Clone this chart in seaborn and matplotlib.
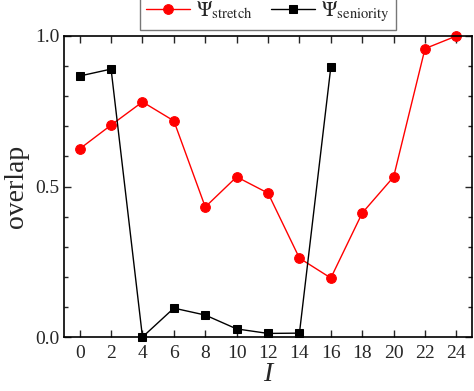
import matplotlib
matplotlib.use("Agg")
import matplotlib.pyplot as plt
import seaborn as sns
import pandas as pd
from matplotlib.ticker import MultipleLocator

sns.set_style("ticks")
plt.rcParams['font.family'] = ['Liberation Serif', 'DejaVu Serif']
plt.rcParams['mathtext.fontset'] = 'stix'

I_stretch = [0, 2, 4, 6, 8, 10, 12, 14, 16, 18, 20, 22, 24]
stretch = [0.625, 0.704, 0.781, 0.718, 0.432, 0.532, 0.478, 0.262, 0.196, 0.412, 0.532, 0.958, 1.0]
I_sen = [0, 2, 4, 6, 8, 10, 12, 14, 16]
seniority = [0.867, 0.890, 0.0, 0.096, 0.073, 0.027, 0.012, 0.013, 0.897]
xticks = list(range(0, 25, 2))
yticks = [0.0, 0.5, 1.0]

df1 = pd.DataFrame({"I": I_stretch, "overlap": stretch})
df2 = pd.DataFrame({"I": I_sen, "overlap": seniority})

fig = plt.figure(figsize=(4.74, 3.91), dpi=100)
ax = fig.add_axes([0.135, 0.138, 0.861, 0.770])

sns.lineplot(data=df1, x="I", y="overlap", ax=ax, color="#ff0000", marker="o",
             markersize=7, markeredgecolor="#ff0000", linewidth=1.0,
             label=r"$\Psi_{\mathrm{stretch}}$", clip_on=False)
sns.lineplot(data=df2, x="I", y="overlap", ax=ax, color="black", marker="s",
             markersize=6, markeredgecolor="black", linewidth=1.0,
             label=r"$\Psi_{\mathrm{seniority}}$", clip_on=False)

ax.set_xlim(-1, 25)
ax.set_ylim(0, 1)
ax.set_xticks(xticks)
ax.set_xticklabels([str(t) for t in xticks])
ax.set_yticks(yticks)
ax.set_yticklabels([f"{t:.1f}" for t in yticks])
ax.yaxis.set_minor_locator(MultipleLocator(0.1))
ax.tick_params(axis='both', which='both', direction='in', top=True, right=True,
               labelsize=14, width=1.0)
ax.tick_params(axis='both', which='major', length=5)
ax.tick_params(axis='both', which='minor', length=3)
ax.tick_params(axis='x', which='major', pad=6)
for s in ax.spines.values():
    s.set_linewidth(1.2)
    s.set_color("black")

ax.set_xlabel("I", fontsize=20, style='italic', labelpad=0)
ax.set_ylabel("overlap", fontsize=20, labelpad=4)

ax.legend_.remove()
h, l = ax.get_legend_handles_labels()
leg = fig.legend(h, l, ncol=2, loc='lower left', bbox_to_anchor=(0.295, 0.923),
                 fontsize=15, frameon=True, fancybox=False, edgecolor="#555555",
                 handlelength=2.1, columnspacing=0.9, handletextpad=0.3,
                 borderpad=0.3, borderaxespad=0)
leg.get_frame().set_linewidth(1.0)

fig.savefig("out.png", dpi=100)
